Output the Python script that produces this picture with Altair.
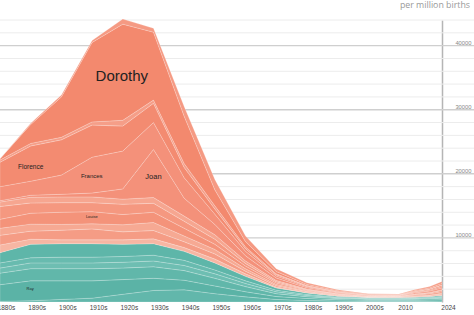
import altair as alt
import pandas as pd

# ---------------- data ----------------
years = [1880, 1890, 1900, 1910, 1920, 1930, 1940, 1950, 1960, 1970,
         1980, 1990, 2000, 2010, 2015, 2020, 2024]

# values in thousands per million births, stacked bottom -> top
layer_names = ["m1", "Ray", "m3", "m4", "m5", "m6",
               "f_light", "f_a", "f_band1", "Louise", "f_e", "f_band2",
               "Joan", "Frances", "Florence", "f_band3", "Dorothy", "f_top"]

m1 = [.1, .2, .4, .6, 1.2, 1.8, 1.9, 1.3, .8, .4, .25, .15, .1, .1, .1, .12, .15]
ray = [2.6, 3.1, 2.9, 2.7, 2.3, 1.9, 1.5, 1.2, .8, .45, .3, .2, .16, .16, .17, .19, .22]
m3 = [1.8, 1.9, 1.9, 1.9, 1.8, 1.8, 1.5, 1.2, .8, .45, .28, .18, .15, .15, .16, .18, .21]
m4 = [.8, .9, .9, .9, .9, .9, .8, .7, .5, .3, .2, .13, .1, .1, .11, .12, .14]
m5 = [.8, .8, .9, .9, .9, .9, .8, .6, .4, .25, .15, .1, .08, .08, .09, .1, .12]
m6 = [1.6, 2.1, 2.1, 2.1, 1.9, 1.8, 1.4, 1.1, .7, .35, .22, .14, .11, .11, .12, .14, .16]

f_light = [1.2, .8, .6, .6, .7, .75, .6, .6, .4, .15, .08, .05, .03, .02, .04, .06, .1]
f_a = [1.5, 1.25, 1.5, 1.7, 1.25, 1.3, .9, .8, .4, .2, .12, .08, .04, .04, .08, .1, .14]
f_band1 = [1.1, 1.1, .9, .8, 1.1, 1.25, .9, .7, .4, .2, .1, .07, .04, .04, .08, .1, .14]
louise = [1.4, 1.7, 1.9, 1.9, 1.6, 1.6, 1.2, .8, .4, .2, .12, .08, .05, .05, .12, .16, .22]
f_e = [2.0, 1.6, 1.5, 1.4, 1.6, 1.4, 1.1, .8, .4, .2, .1, .07, .04, .04, .1, .13, .18]
f_band2 = [.7, .9, .9, .9, .8, .9, .8, .7, .4, .2, .1, .06, .04, .04, .08, .1, .14]
joan = [.2, .3, .4, .6, 1.6, 7.5, 2.8, 1.6, .8, .4, .22, .13, .08, .07, .15, .2, .28]
frances = [2.2, 2.2, 3.0, 5.6, 5.9, 4.2, 3.2, 1.6, .7, .3, .15, .09, .06, .05, .1, .14, .2]
florence = [3.8, 5.5, 5.5, 5.0, 3.9, 3.0, 1.6, .8, .4, .2, .1, .07, .04, .04, .1, .14, .2]
f_band3 = [.35, .4, .4, .5, .9, .5, .6, .5, .3, .15, .08, .05, .03, .03, .05, .07, .1]
dorothy = [.2, 2.95, 6.3, 12.4, 15.0, 10.6, 7.4, 2.5, .8, .35, .18, .1, .06, .05, .1, .15, .2]
f_top = [0, .2, .3, .3, .8, .6, 1.5, 1.6, .9, .45, .25, .15, .09, .08, .15, .2, .3]

layer_values = [m1, ray, m3, m4, m5, m6,
                f_light, f_a, f_band1, louise, f_e, f_band2,
                joan, frances, florence, f_band3, dorothy, f_top]

layer_colors = ["#62B7AB", "#5BB3A6", "#61B7AA", "#6EBEB2", "#68BBAF", "#5EB6A9",
                "#F7B6A3", "#F59C85", "#F6A993", "#F4937A", "#F59880", "#F6A690",
                "#F4917A", "#F4917A", "#F38B71", "#F59E88", "#F3896E", "#F59A83"]

# name labels
label_names = ["Dorothy", "Florence", "Frances", "Joan", "Louise", "Ray"]
label_years = [1919.7, 1890, 1909.9, 1930, 1909.9, 1889.8]
label_values = [35200, 21060, 19600, 19500, 13200, 2100]
label_sizes = [15, 6.5, 6, 7.5, 4, 4]

# axes
x_ticks = [1880, 1890, 1900, 1910, 1920, 1930, 1940, 1950, 1960, 1970,
           1980, 1990, 2000, 2010, 2024]
y_major = [10000, 20000, 30000, 40000]
y_minor = [v for v in range(2000, 44001, 2000) if v not in y_major]

# ---------------- build ----------------
rows = []
for i, (nm, vals) in enumerate(zip(layer_names, layer_values)):
    for yr, v in zip(years, vals):
        rows.append({"year": yr, "name": nm, "value": v * 1000, "ord": i})
df = pd.DataFrame(rows)

labels_df = pd.DataFrame({"name": label_names, "year": label_years,
                          "value": label_values, "size": label_sizes})
minor_df = pd.DataFrame({"value": y_minor})
major_df = pd.DataFrame({"value": y_major})

xscale = alt.Scale(domain=[1880, 2024], nice=False, zero=False)
yscale = alt.Scale(domain=[0, 44000], nice=False)

xaxis = alt.Axis(values=x_ticks,
                 labelExpr="datum.value < 2010 ? datum.value + 's' : '' + datum.value",
                 grid=False, domain=False, ticks=False, labelPadding=2,
                 labelFontSize=6.5, labelColor="#444", labelOffset=6,
                 labelFont="Liberation Sans", labelFlush=False,
                 labelOverlap=False, labelBound=False)
yaxis = alt.Axis(orient="right", values=y_major, format="d",
                 grid=False, domain=True, domainColor="#b5b5b5",
                 domainWidth=1.5, ticks=False, labelAlign="right",
                 labelPadding=29, labelFontSize=5.8, labelColor="#888",
                 labelBaseline="alphabetic", labelOffset=-1.5,
                 labelFont="Liberation Sans", labelOverlap=False)

minor_rules = alt.Chart(minor_df).mark_rule(color="#ececec", strokeWidth=1).encode(
    y=alt.Y("value:Q", scale=yscale, axis=yaxis, title=None),
    x=alt.value(0), x2=alt.value(474))
major_rules = alt.Chart(major_df).mark_rule(color="#cfcfcf", strokeWidth=1.4).encode(
    y=alt.Y("value:Q", scale=yscale, axis=yaxis, title=None),
    x=alt.value(0), x2=alt.value(474))

areas = alt.Chart(df).mark_area(
    stroke="#ffffff", strokeWidth=0.5, strokeOpacity=0.4, interpolate="linear"
).encode(
    x=alt.X("year:Q", scale=xscale, title=None, axis=xaxis),
    y=alt.Y("value:Q", stack="zero", scale=yscale, title=None, axis=yaxis),
    color=alt.Color("name:N", scale=alt.Scale(domain=layer_names, range=layer_colors),
                    legend=None),
    order=alt.Order("ord:Q", sort="ascending"),
)

texts = alt.Chart(labels_df).mark_text(
    font="Liberation Sans", color="#222", baseline="middle", align="center"
).encode(
    x=alt.X("year:Q", scale=xscale, title=None, axis=xaxis),
    y=alt.Y("value:Q", scale=yscale, title=None, axis=yaxis),
    text="name:N",
    size=alt.Size("size:Q", scale=None),
)

chart = alt.layer(minor_rules, major_rules, areas, texts).properties(
    width=442, height=282,
    title=alt.TitleParams("per million births", anchor="end", frame="group",
                          dx=28, offset=8, fontSize=8.8, font="Open Sans",
                          color="#999", fontWeight="normal"),
    autosize=alt.AutoSizeParams(type="none"),
    padding={"left": 0, "top": 20, "right": 32, "bottom": 13},
).configure_view(stroke=None).configure_axis(labelOverlap=False)

chart.save("out.html", embed_options={"renderer": "svg", "actions": False})
